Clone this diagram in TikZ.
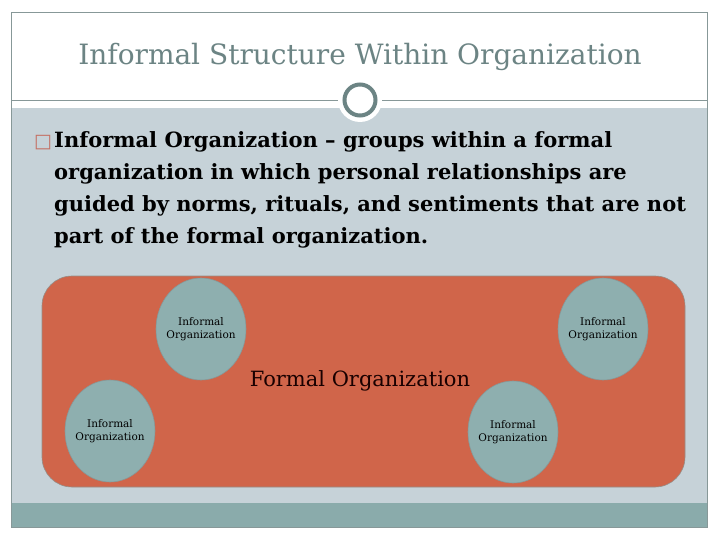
\documentclass[tikz,border=0pt]{standalone}
\usepackage{fontspec}
\setmainfont{DejaVu Serif}
\newfontfamily\symfont{DejaVu Sans}
\usetikzlibrary{shapes.geometric, positioning}
\definecolor{slidebg}{RGB}{198,210,216}
\definecolor{barteal}{RGB}{138,171,171}
\definecolor{formalred}{RGB}{208,101,74}
\definecolor{informalteal}{RGB}{142,175,175}
\definecolor{titlegray}{RGB}{108,132,132}
\definecolor{framegray}{RGB}{135,152,152}
\definecolor{bulletred}{RGB}{196,112,100}

\tikzset{
  informal/.style={ellipse, draw=framegray, line width=0.6pt, fill=informalteal,
    minimum width=90pt, minimum height=102pt, inner xsep=-14pt, inner ysep=0pt, align=center,
    font=\fontsize{10.5}{13.5}\selectfont}
}

\begin{document}
\begin{tikzpicture}[x=1pt, y=-1pt]
  \useasboundingbox (0,0) rectangle (720,540);

  % Slide frame
  \fill[white] (11,12) rectangle (707,108);
  \fill[slidebg] (11,108) rectangle (707,503);
  \fill[barteal] (11,503) rectangle (707,527);
  \draw[framegray, line width=0.8pt] (11,100) -- (707,100);
  \draw[framegray, line width=0.8pt] (11,12) rectangle (707,527);
  \node[circle, fill=white, minimum size=44pt, inner sep=0pt] (halo) at (360,100) {};
  \node[circle, draw=titlegray, line width=4pt, fill=white, minimum size=31pt, inner sep=0pt] (ring) at (360,100) {};

  % Title
  \node[text=titlegray, font=\fontsize{28}{32}\selectfont] (title) at (360,57) {Informal Structure Within Organization};

  % Definition
  \node[anchor=north west, align=left, inner sep=0pt, font=\bfseries\fontsize{21}{32}\selectfont] (defn) at (54,131) {
    \llap{{\color{bulletred}\symfont\fontsize{19}{20}\selectfont □}\hspace{2pt}}Informal Organization -- groups within a formal\\
    organization in which personal relationships are\\
    guided by norms, rituals, and sentiments that are not\\
    part of the formal organization.};

  % Formal organization
  \node[draw=framegray!80!formalred, line width=0.6pt, fill=formalred, rounded corners=30pt,
    minimum width=643pt, minimum height=211pt] (formal) at (363.5,381.5) {};
  \node[text=black!90!red, font=\fontsize{21}{24}\selectfont] (formallabel) at (360,381) {Formal Organization};

  % Informal groups
  \node[informal] (inf1) at (201,329) {Informal\\Organization};
  \node[informal] (inf2) at (603,329) {Informal\\Organization};
  \node[informal] (inf3) at (110,431) {Informal\\Organization};
  \node[informal] (inf4) at (513,432) {Informal\\Organization};
\end{tikzpicture}
\end{document}
